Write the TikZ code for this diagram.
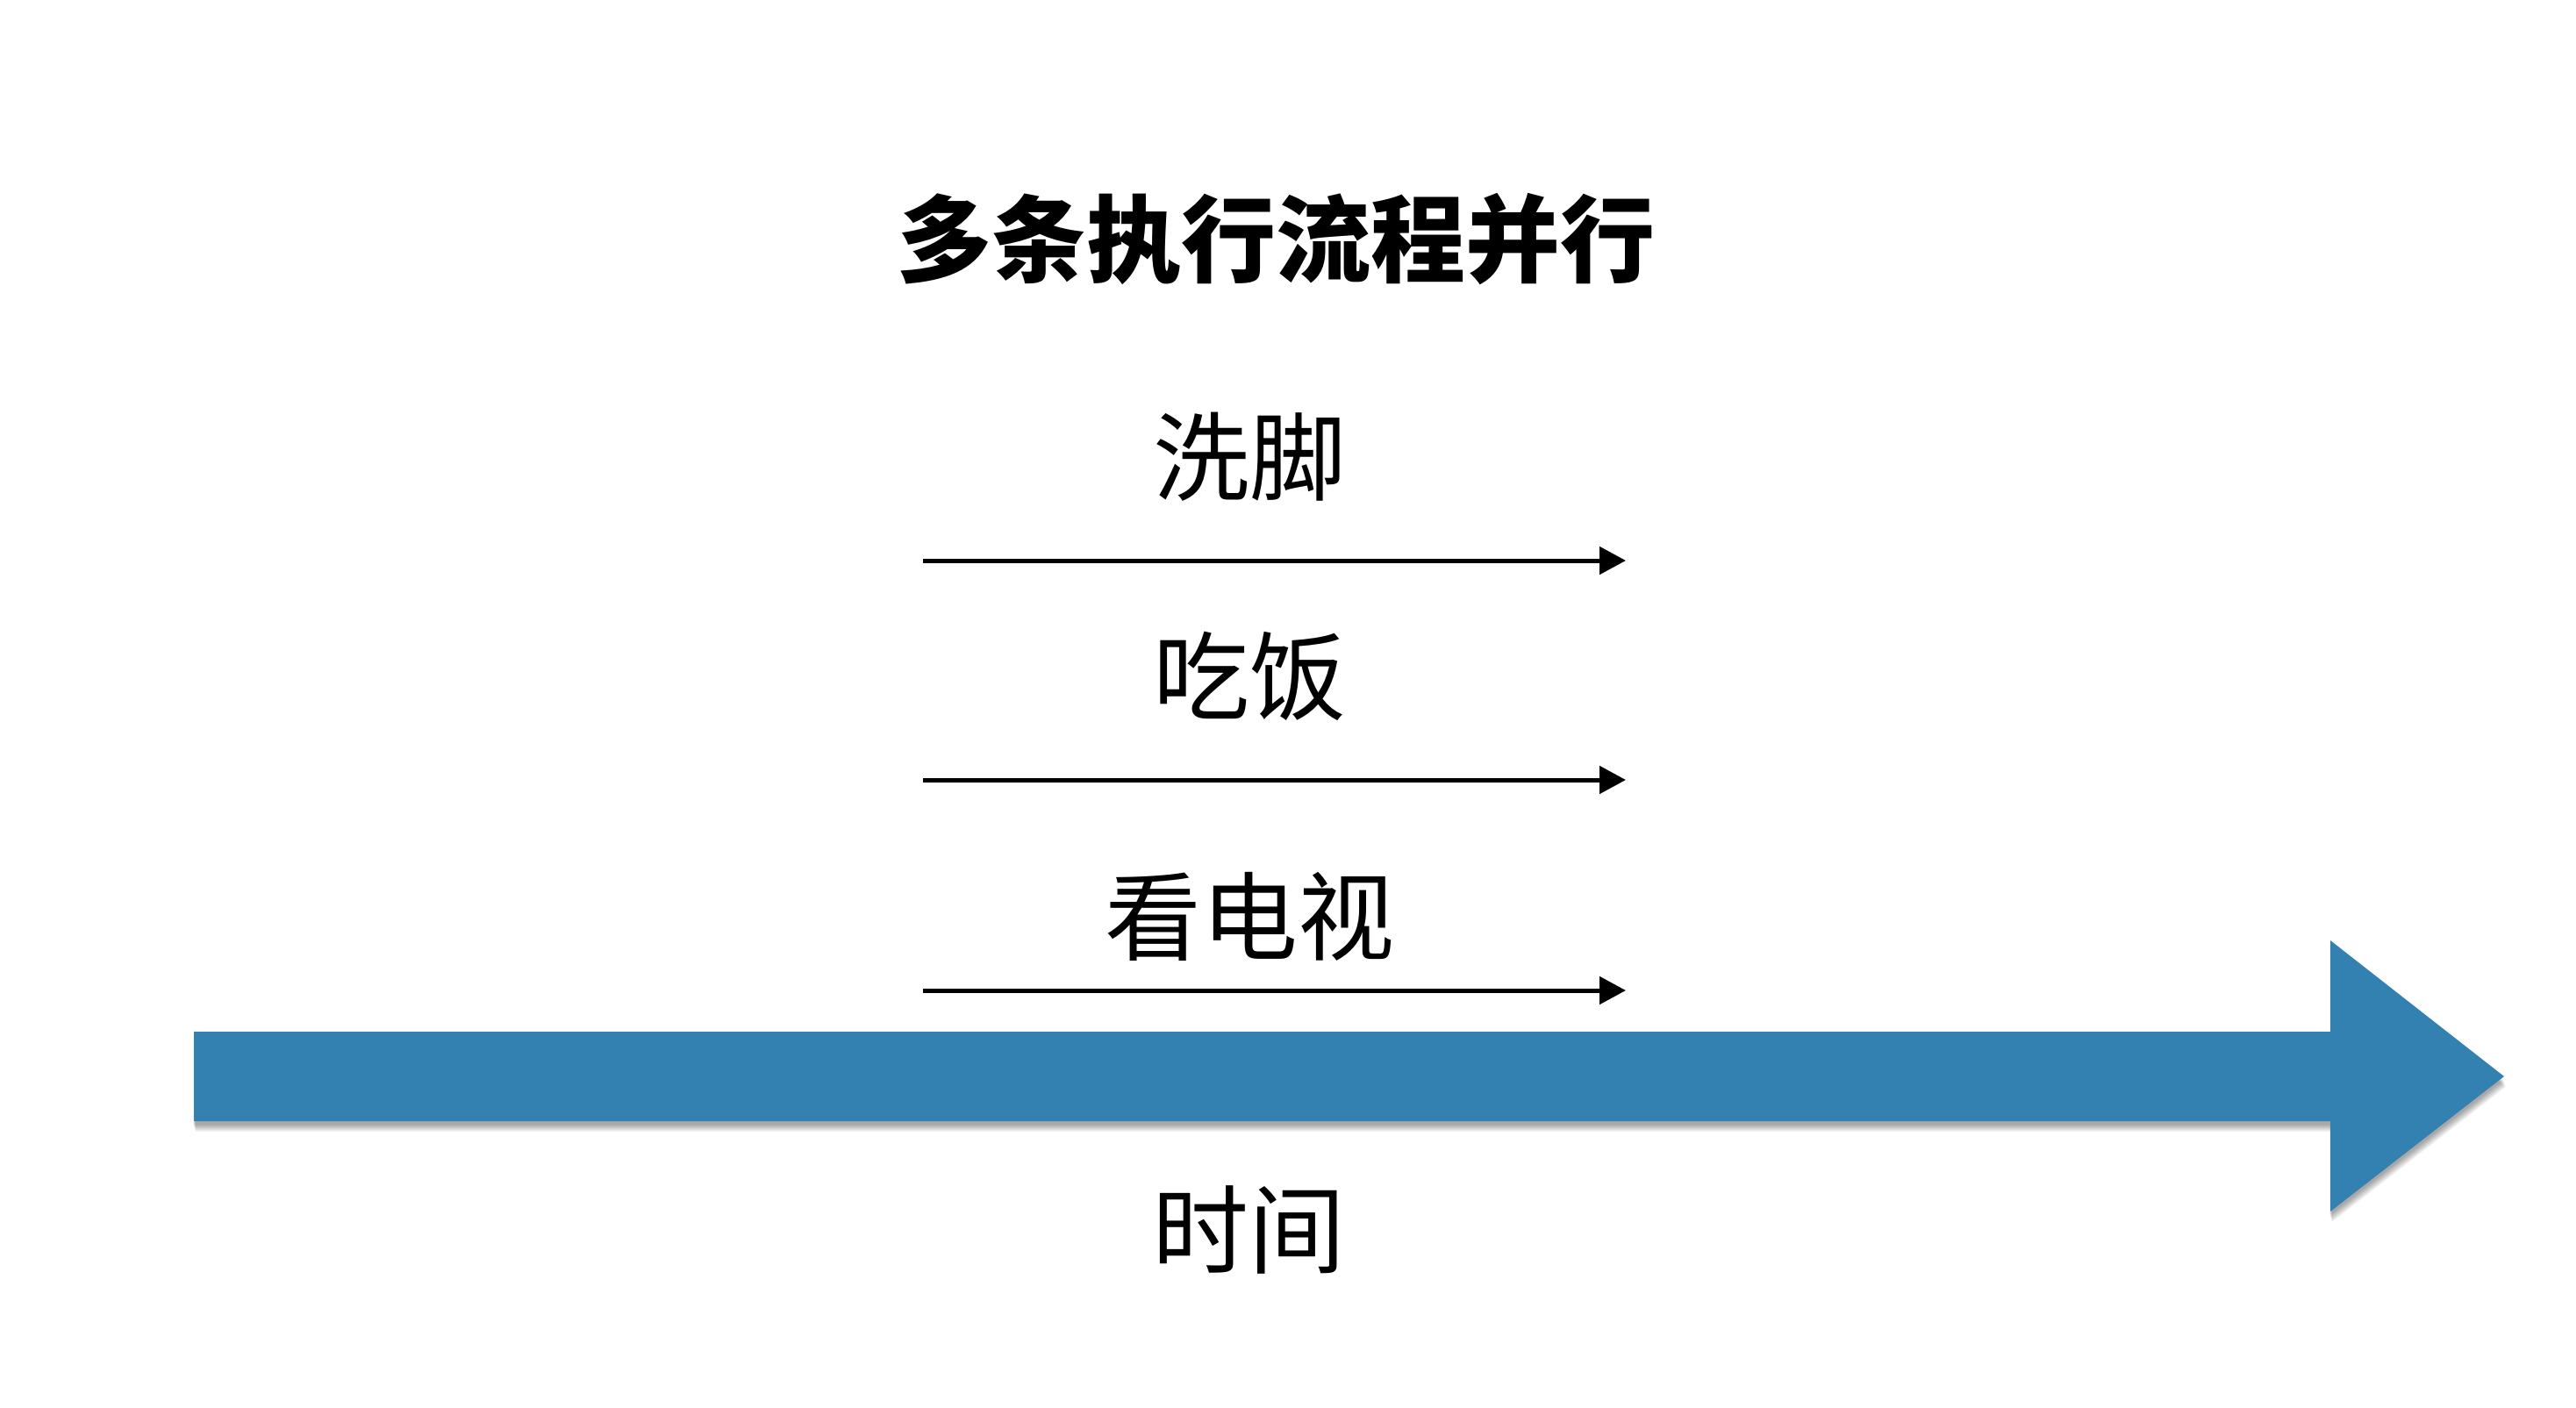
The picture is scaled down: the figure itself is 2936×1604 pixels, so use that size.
\documentclass[tikz,border=0pt]{standalone}
\usepackage{fontspec}
\setmainfont{Noto Sans CJK SC}
\newfontfamily\cjk{Noto Sans CJK SC}
\usetikzlibrary{arrows.meta}
\definecolor{timeblue}{RGB}{51,129,176}
\tikzset{
  titletext/.style={font=\cjk\bfseries\fontsize{108}{120}\selectfont, inner sep=0pt, anchor=center},
  labeltext/.style={font=\cjk\fontsize{110}{120}\selectfont, inner sep=0pt, anchor=center},
  flowarrow/.style={line width=5pt, -{Triangle[length=30pt,width=31pt]}},
}
\begin{document}
\begin{tikzpicture}[x=1pt,y=-1pt]
\useasboundingbox (0,0) rectangle (2936,1604);
\fill[white] (0,0) rectangle (2936,1604);
\def\timearrow{(221,1176) -- (2656,1176) -- (2656,1072) -- (2854,1227) -- (2656,1381) -- (2656,1278) -- (221,1278) -- cycle}
% soft shadow
\foreach \k in {1,...,9}{
  \fill[black, opacity=0.045, shift={(-1+\k/3,3+\k)}] \timearrow;
}
\fill[timeblue] \timearrow;
\node[titletext] (title) at (1454,273) {多条执行流程并行};
\node[labeltext] (l1) at (1424,521) {洗脚};
\node[labeltext] (l2) at (1424,771) {吃饭};
\node[labeltext] (l3) at (1424,1045) {看电视};
\node[labeltext] (l4) at (1423,1402) {时间};
\coordinate (a1s) at (1052,639);
\coordinate (a1e) at (1853,639);
\coordinate (a2s) at (1052,889);
\coordinate (a2e) at (1853,889);
\coordinate (a3s) at (1052,1129);
\coordinate (a3e) at (1853,1129);
\draw[flowarrow] (a1s) -- (a1e);
\draw[flowarrow] (a2s) -- (a2e);
\draw[flowarrow] (a3s) -- (a3e);
\end{tikzpicture}
\end{document}
